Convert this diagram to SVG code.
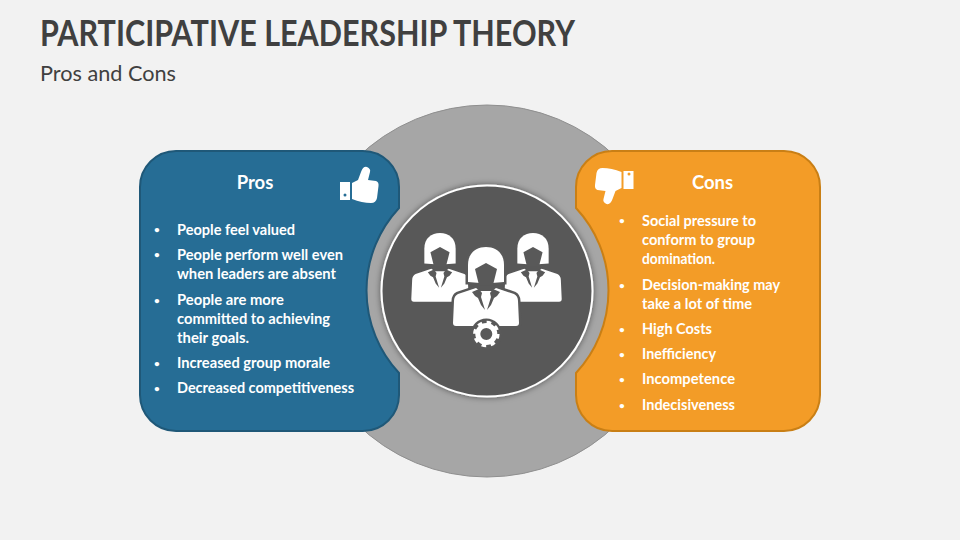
<svg xmlns="http://www.w3.org/2000/svg" width="960" height="540" viewBox="0 0 960 540">
<style>
text{font-family:Lato,"Liberation Sans",sans-serif}
.t{fill:#404040}
.h{fill:#fff;font-size:18.5px;font-weight:700;text-anchor:middle}
.b{fill:#fff;font-size:14.5px;font-weight:700}
.u{fill:#fff;font-size:10px;font-weight:700}
.w{fill:#fff}
.d{fill:#595959}
</style>
<defs>
<filter id="sh" x="-20%" y="-20%" width="140%" height="140%"><feDropShadow dx="0" dy="0" stdDeviation="3" flood-color="#000" flood-opacity=".5"/></filter>
<g id="person">
<path class="w" d="M-18,35V18C-18,6-10,0 0,0S18,6 18,18V35L6,36H-6Z"/>
<path class="d" d="M0,16L-11,22-7,38H7L11,22Z"/>
<path class="w" d="M-10,41L-28,47Q-32,49-32,54L-33,76Q-33,79-30,79H30Q33,79 33,76L32,54Q32,49 28,47L10,41 6,44H-6Z"/>
<path class="d" d="M-14,45L-7,42-4,46-5,50-1,63-5,58-8,51-11,49ZM14,45L7,42 4,46 5,50 1,63 5,58 8,51 11,49Z"/>
</g>
<path id="thumb" class="w" d="M352,183L358,180 361,172Q363,166 367,167 371,169 370,172L368,180 376,181Q379,182 378.500,186L377,198Q376,203 371,203 362,203 352,199ZM340,182H350V200H340Z"/>
</defs>
<rect width="960" height="540" fill="#f2f2f2"/>
<text class="t" x="40" y="46" font-size="36" font-weight="700" textLength="535" lengthAdjust="spacingAndGlyphs">PARTICIPATIVE LEADERSHIP THEORY</text>
<text class="t" x="40" y="81" font-size="21" textLength="136" lengthAdjust="spacingAndGlyphs">Pros and Cons</text>

<g id="ring"><circle cx="487" cy="291" r="186" fill="#a6a6a6" stroke="#8f8f8f"/></g>

<g id="pros">
<path d="M176,151H363A36,36 0 0 1 399,187V208A121,121 0 0 0 399,373V395A36,36 0 0 1 363,431H176A36,36 0 0 1 140,395V187A36,36 0 0 1 176,151Z" fill="#266d95" stroke="#1f5878" stroke-width="2"/>
<text class="h" x="255" y="189">Pros</text>
<use href="#thumb"/>
<circle cx="345" cy="195" r="1.500" fill="#266d95"/>
<text class="u" x="154" y="233">•</text><text class="u" x="154" y="258">•</text><text class="u" x="154" y="304">•</text><text class="u" x="154" y="367">•</text><text class="u" x="154" y="392">•</text>
<g class="b">
<text x="177" y="234.500" textLength="118" lengthAdjust="spacingAndGlyphs">People feel valued</text>
<text x="177" y="259.500" textLength="166" lengthAdjust="spacingAndGlyphs">People perform well even</text>
<text x="177" y="278.500" textLength="159" lengthAdjust="spacingAndGlyphs">when leaders are absent</text>
<text x="177" y="305" textLength="107" lengthAdjust="spacingAndGlyphs">People are more</text>
<text x="177" y="324" textLength="153" lengthAdjust="spacingAndGlyphs">committed to achieving</text>
<text x="177" y="343" textLength="72" lengthAdjust="spacingAndGlyphs">their goals.</text>
<text x="177" y="368" textLength="153" lengthAdjust="spacingAndGlyphs">Increased group morale</text>
<text x="177" y="393" textLength="177" lengthAdjust="spacingAndGlyphs">Decreased competitiveness</text>
</g>
</g>

<g id="cons">
<path d="M612,151H784A36,36 0 0 1 820,187V395A36,36 0 0 1 784,431H612A36,36 0 0 1 576,395V373A121,121 0 0 0 576,208V187A36,36 0 0 1 612,151Z" fill="#f39c27" stroke="#c97f15" stroke-width="2"/>
<text class="h" x="712.500" y="189">Cons</text>
<use href="#thumb" transform="translate(973.500,371) rotate(180)"/>
<circle cx="629" cy="174" r="1.500" fill="#f39c27"/>
<text class="u" x="619" y="224">•</text><text class="u" x="619" y="289">•</text><text class="u" x="619" y="333">•</text><text class="u" x="619" y="358">•</text><text class="u" x="619" y="383">•</text><text class="u" x="619" y="409">•</text>
<g class="b">
<text x="642" y="225.500" textLength="114" lengthAdjust="spacingAndGlyphs">Social pressure to</text>
<text x="642" y="245" textLength="113" lengthAdjust="spacingAndGlyphs">conform to group</text>
<text x="642" y="264" textLength="73" lengthAdjust="spacingAndGlyphs">domination.</text>
<text x="642" y="290" textLength="138" lengthAdjust="spacingAndGlyphs">Decision-making may</text>
<text x="642" y="309" textLength="110" lengthAdjust="spacingAndGlyphs">take a lot of time</text>
<text x="642" y="334" textLength="70" lengthAdjust="spacingAndGlyphs">High Costs</text>
<text x="642" y="359" textLength="74" lengthAdjust="spacingAndGlyphs">Inefficiency</text>
<text x="642" y="384" textLength="93" lengthAdjust="spacingAndGlyphs">Incompetence</text>
<text x="642" y="410" textLength="93" lengthAdjust="spacingAndGlyphs">Indecisiveness</text>
</g>
</g>

<g id="center">
<circle cx="487" cy="291" r="105.500" fill="#595959" stroke="#fff" stroke-width="2" filter="url(#sh)"/>
<use href="#person" transform="translate(440,233) scale(.87)"/>
<use href="#person" transform="translate(533,233) scale(.87)"/>
<path d="M-18,35V18C-18,6-10,0 0,0S18,6 18,18V35ZM-10,41L-28,47Q-32,49-32,54L-33,76Q-33,79-30,79H30Q33,79 33,76L32,54Q32,49 28,47L10,41Z" transform="translate(486,247)" fill="#595959" stroke="#595959" stroke-width="5"/>
<use href="#person" transform="translate(486,247)"/>
<g id="gear" transform="translate(486.300,334)">
<circle r="15.500" fill="#595959"/>
<circle r="8.500" fill="none" stroke="#fff" stroke-width="5"/>
<circle r="11.500" fill="none" stroke="#fff" stroke-width="3.500" stroke-dasharray="4.500 4.531"/>
</g>
</g>
</svg>
